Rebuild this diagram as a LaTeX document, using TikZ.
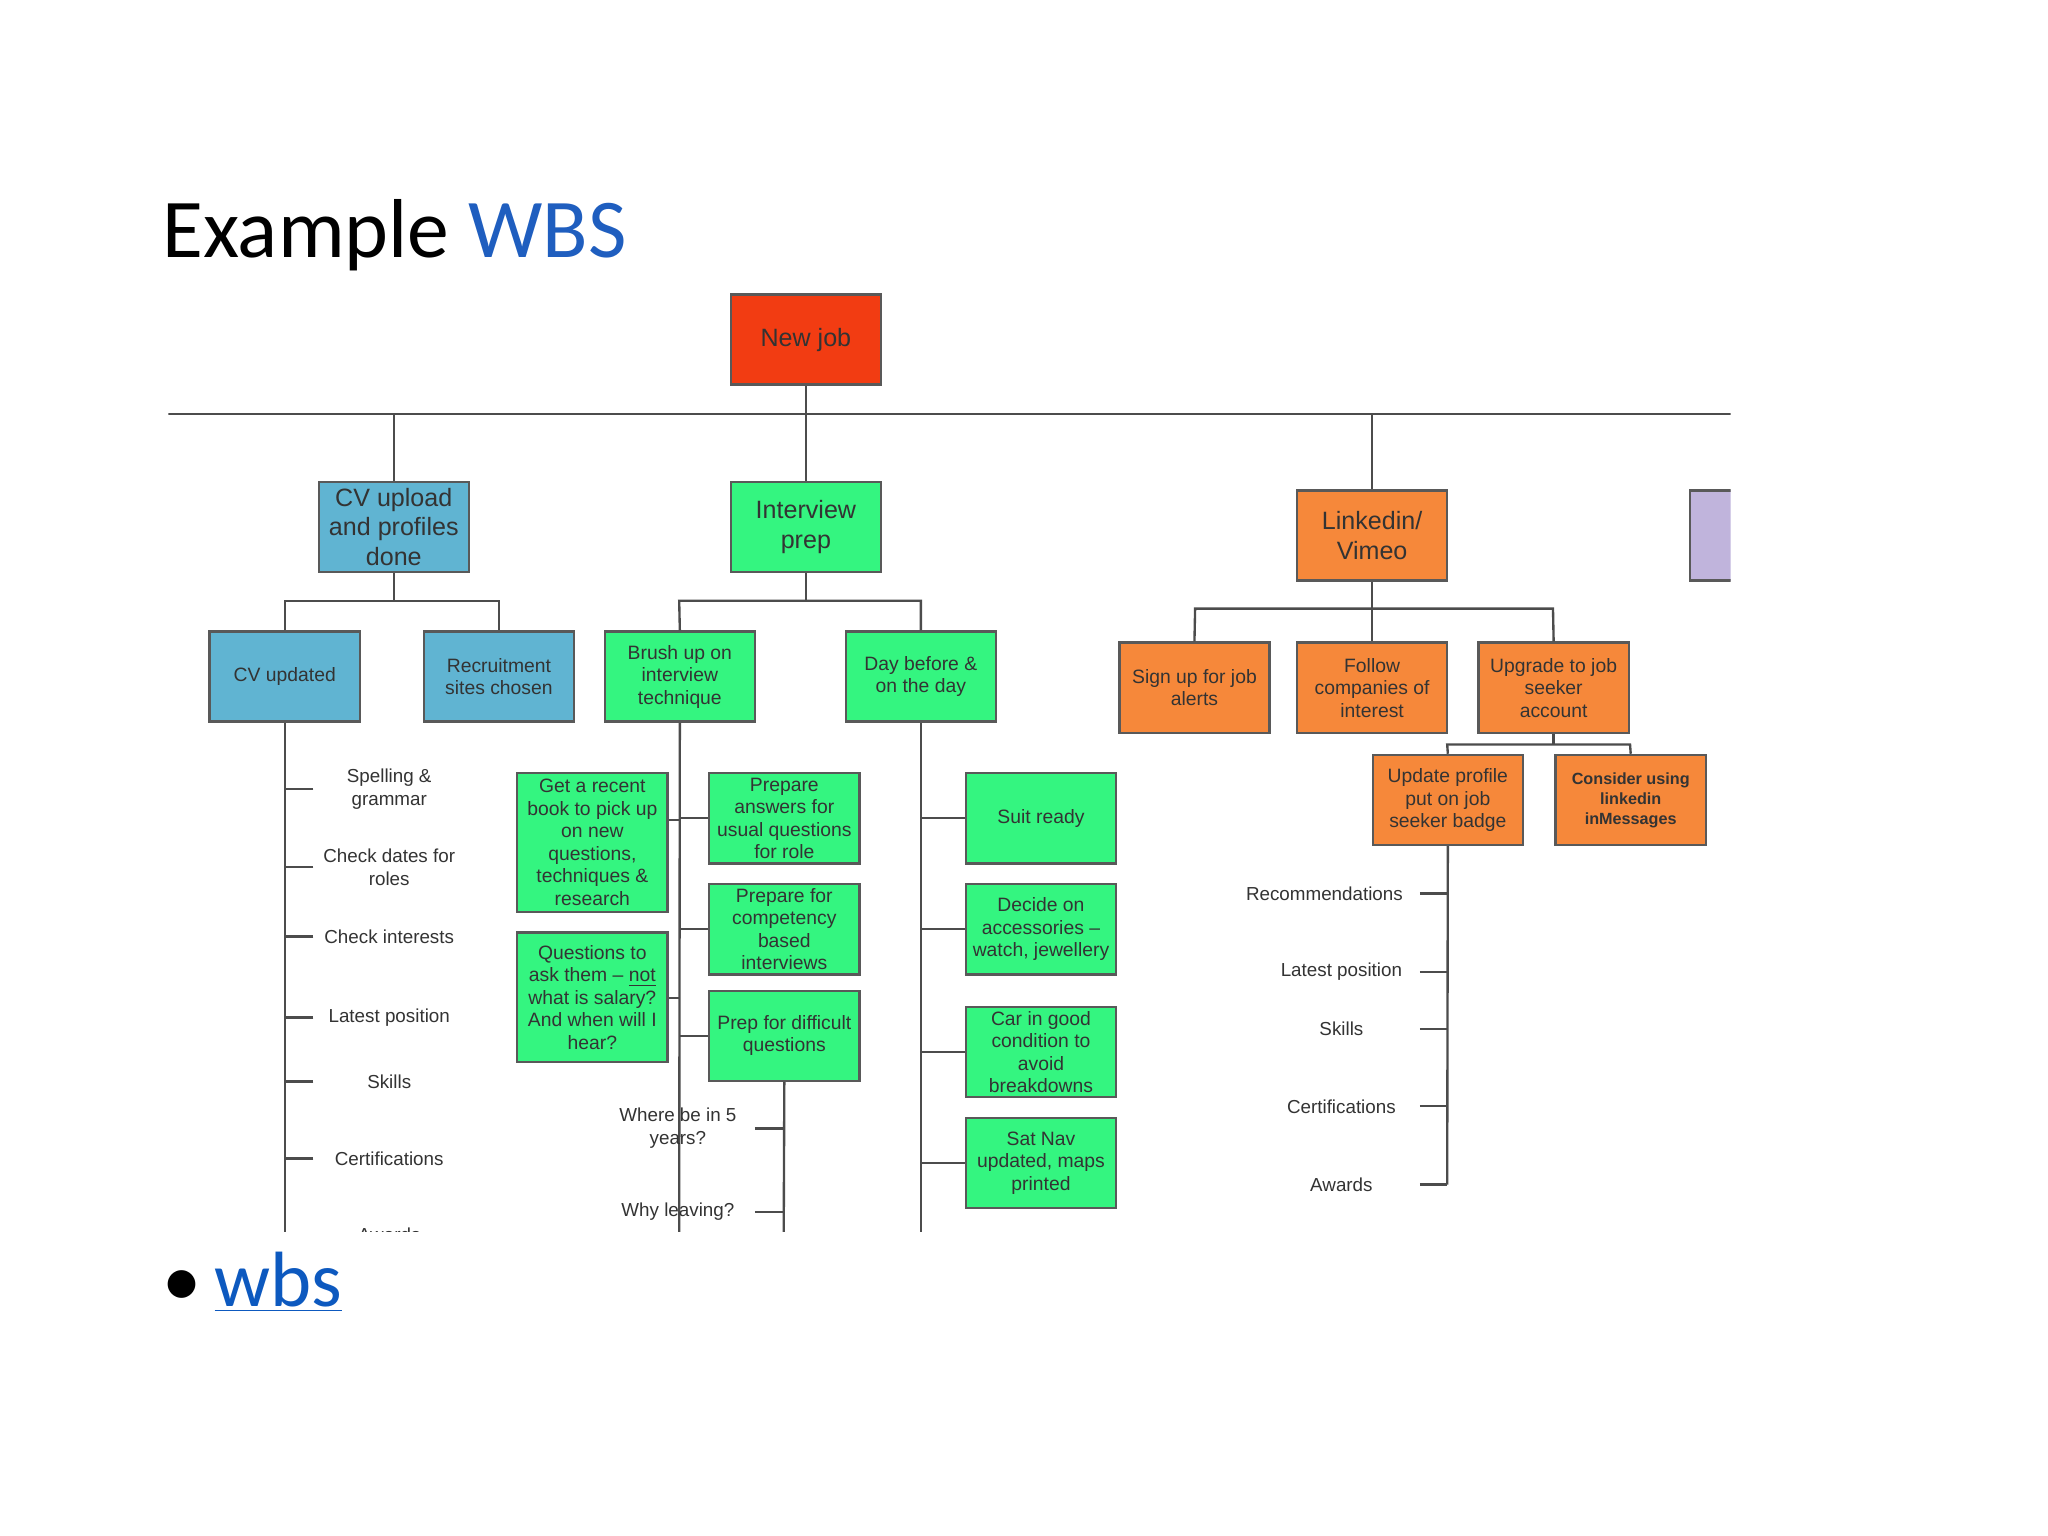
\documentclass[tikz,border=0pt]{standalone}
\usepackage{fontspec}
\setmainfont{Liberation Sans}
\newfontfamily\calib{Carlito}
\begin{document}
\begin{tikzpicture}[x=0.5pt,y=-0.5pt,
  box/.style={draw=black!65,line width=0.9pt,minimum width=57.5pt,minimum height=34.5pt,inner sep=1pt,align=center,font=\fontsize{7.4}{8.6}\selectfont,text=black!80},
  big/.style={box,font=\fontsize{9.6}{11.4}\selectfont},
  red/.style={big,fill={rgb,255:red,242;green,60;blue,18}},
  blu/.style={box,fill={rgb,255:red,96;green,180;blue,210}},
  grn/.style={box,fill={rgb,255:red,52;green,245;blue,128}},
  org/.style={box,fill={rgb,255:red,246;green,136;blue,58}},
  pur/.style={box,fill={rgb,255:red,192;green,180;blue,220}},
  ln/.style={draw=black!70,line width=0.9pt},
  lab/.style={align=center,font=\fontsize{7.2}{8.8}\selectfont,text=black!80}]
\useasboundingbox (0,0) rectangle (1568,1176);
\fill[white] (0,0) rectangle (1568,1176);
\node[anchor=base west,inner sep=0,font=\calib\fontsize{32}{36}\selectfont] (title) at (124,197) {Example \textcolor[rgb]{0.12,0.37,0.75}{WBS}};
\node[anchor=base west,inner sep=0,font=\calib\fontsize{30}{34}\selectfont] (bul) at (124,1000) {\textbullet\,\textcolor[rgb]{0.05,0.35,0.75}{\underline{wbs}}};
\begin{scope}
\clip (129,215) rectangle (1325,943);
% level 0/1
\node[red] (nj) at (617,260) {New job};
\coordinate (busL) at (129,317); \coordinate (busR) at (1325,317);
\draw[ln] (busL) -- (busR);
\node[blu,font=\fontsize{9.6}{11.4}\selectfont] (cvp) at (301.5,403.5) {CV upload\\and profiles\\done};
\node[grn,font=\fontsize{9.6}{11.4}\selectfont] (ip) at (617,403.5) {Interview\\prep};
\node[org,font=\fontsize{9.6}{11.4}\selectfont] (li) at (1050.5,410) {Linkedin/\\Vimeo};
\node[pur,font=\fontsize{9.6}{11.4}\selectfont,anchor=west] (pu) at (1293,410) {N\\e};
\draw[ln] (nj.south) -- (ip.north);
\draw[ln] (cvp.north) -- (cvp.north |- busL);
\draw[ln] (li.north) -- (li.north |- busL);
% CV children
\node[blu] (cvu) at (218,518) {CV updated};
\node[blu] (rec) at (382,518) {Recruitment\\sites chosen};
\coordinate (c1) at (218,460); \coordinate (c2) at (382,460);
\draw[ln] (cvp.south) -- (cvp.south |- c1);
\draw[ln] (cvu.north) -- (c1) -- (c2) -- (rec.north);
\coordinate (cvend) at (218,950);
\draw[ln] (cvu.south) -- (cvend);
\foreach \y/\t in {604/{Spelling \&\\grammar},664/{Check dates for\\roles},717/{Check interests},779/{Latest position},828/{Skills},887/{Certifications},945/{Awards}}{
  \coordinate (t) at (240,\y);
  \draw[ln] (t) -- (t -| cvend);
  \node[lab] at (298,\y) {\t};}
% Interview children
\node[grn] (bu) at (520.5,518) {Brush up on\\interview\\technique};
\node[grn] (db) at (705,518) {Day before \&\\on the day};
\coordinate (i1) at (520,460); \coordinate (i2) at (705,460);
\draw[ln] (ip.south) -- (ip.south |- i1);
\draw[ln] (bu.north) -- (i1) -- (i2) -- (db.north);
\coordinate (buend) at (520,950);
\draw[ln] (bu.south) -- (buend);
\node[grn,minimum height=53pt] (gr) at (453.5,645) {Get a recent\\book to pick up\\on new\\questions,\\techniques \&\\research};
\node[grn,minimum height=49.5pt] (qu) at (453.5,763.5) {Questions to\\ask them -- \underline{not}\\what is salary?\\And when will I\\hear?};
\draw[ln] (gr.east |- 0,628) -- (520,628);
\draw[ln] (qu.east |- 0,764) -- (520,764);
\node[grn] (pa) at (600.5,626.5) {Prepare\\answers for\\usual questions\\for role};
\node[grn] (pc) at (600.5,711.5) {Prepare for\\competency\\based\\interviews};
\node[grn] (pd) at (600.5,793) {Prep for difficult\\questions};
\foreach \n in {pa,pc,pd}{\draw[ln] (\n.west) -- (\n.west -| buend);}
\coordinate (pdend) at (600,950);
\draw[ln] (pd.south) -- (pdend);
\foreach \y/\t in {864/{Where be in 5\\years?},928/{Why leaving?}}{
  \coordinate (t) at (578,\y);
  \draw[ln] (t) -- (t -| pdend);
  \node[lab] at (519,\y) {\t};}
% Day before children
\coordinate (dbend) at (705,950);
\draw[ln] (db.south) -- (dbend);
\node[grn] (sr) at (797,626.5) {Suit ready};
\node[grn] (da) at (797,711.5) {Decide on\\accessories --\\watch, jewellery};
\node[grn] (cg) at (797,805.5) {Car in good\\condition to\\avoid\\breakdowns};
\node[grn] (sn) at (797,890.5) {Sat Nav\\updated, maps\\printed};
\foreach \n in {sr,da,cg,sn}{\draw[ln] (\n.west) -- (\n.west -| dbend);}
% Linkedin children
\node[org] (su) at (914.5,526.5) {Sign up for job\\alerts};
\node[org] (fo) at (1050.5,526.5) {Follow\\companies of\\interest};
\node[org] (ug) at (1189.5,526.5) {Upgrade to job\\seeker\\account};
\coordinate (l1) at (915,466); \coordinate (l2) at (1189,466);
\draw[ln] (li.south) -- (fo.north);
\draw[ln] (su.north) -- (l1) -- (l2) -- (ug.north);
\node[org] (upd) at (1108.5,612.5) {Update profile\\put on job\\seeker badge};
\node[org,font=\fontsize{6.2}{7.6}\selectfont\bfseries] (con) at (1248.5,612.5) {Consider using\\linkedin\\inMessages};
\coordinate (u1) at (1108,570); \coordinate (u2) at (1248,570);
\draw[ln] (ug.south) -- (ug.south |- u1);
\draw[ln] (upd.north) -- (u1) -- (u2) -- (con.north);
\coordinate (upend) at (1108,907);
\draw[ln] (upd.south) -- (upend);
\foreach \y/\t/\x in {684/Recommendations/1014,744/Latest position/1027,788/Skills/1027,847/Certifications/1027,907/Awards/1027}{
  \coordinate (t) at (1087,\y);
  \draw[ln] (t) -- (t -| upend);
  \node[lab] at (\x,\y) {\t};}
\end{scope}
\end{tikzpicture}
\end{document}
